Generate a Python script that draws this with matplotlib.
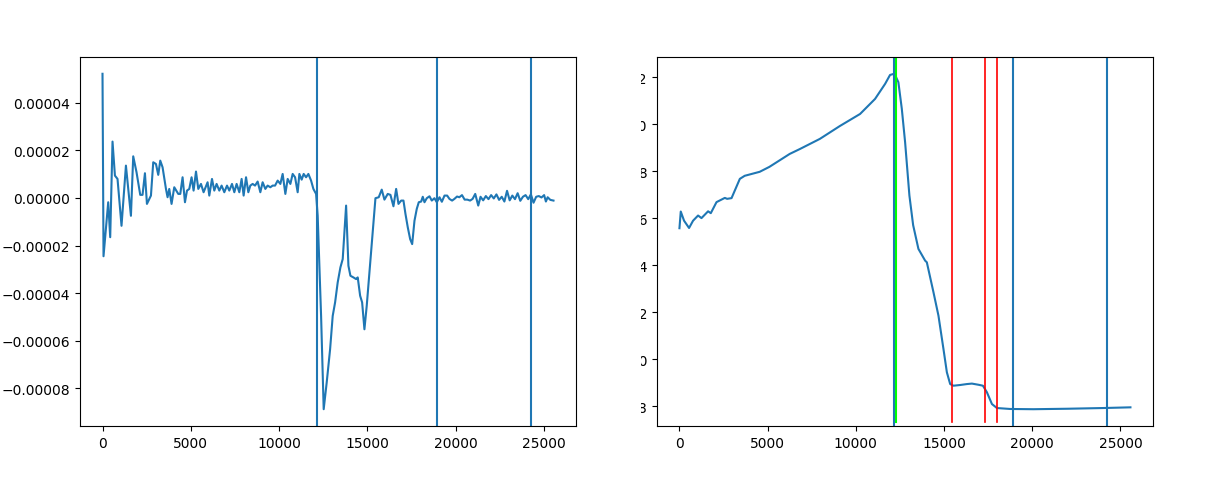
import numpy as np
import matplotlib
matplotlib.use("Agg")
import matplotlib.pyplot as plt
from matplotlib.transforms import Bbox

# left panel: derivative-like signal (values in units of 1e-5)
left_x = [0, 57, 323, 436, 567, 703, 850, 1076, 1326, 1609, 1739, 1926, 2136, 2266, 2402,
          2515, 2742, 2872, 3025, 3156, 3269, 3400, 3592, 3683, 3779, 3909, 4062, 4289, 4402,
          4533, 4668, 4782, 4912, 5042, 5156, 5292, 5422, 5575, 5722, 5949, 6045, 6198, 6328,
          6459, 6612, 6742, 6895, 7048, 7178, 7331, 7462, 7592, 7745, 7875, 7989, 8125, 8255,
          8368, 8499, 8635, 8782, 8935, 9065, 9218, 9348, 9501, 9632, 9768, 9915, 10068, 10198,
          10351, 10482, 10635, 10765, 10901, 11048, 11144, 11275, 11388, 11524, 11654, 11807,
          11938, 12091, 12181, 12374, 12521, 12691, 12884, 13031, 13167, 13314, 13467, 13598,
          13790, 13921, 14034, 14204, 14357, 14448, 14584, 14697, 14827, 14958, 15110, 15241,
          15451, 15637, 15807, 15960, 16147, 16300, 16470, 16623, 16754, 16907, 17037, 17150,
          17280, 17416, 17530, 17660, 17790, 17904, 18040, 18130, 18227, 18357, 18510, 18640,
          18790, 18924, 19077, 19210, 19360, 19510, 19640, 19790, 19920, 20070, 20200, 20350,
          20500, 20650, 20810, 20950, 21100, 21270, 21400, 21550, 21700, 21850, 22000, 22150,
          22300, 22450, 22600, 22750, 22900, 23050, 23200, 23350, 23500, 23650, 23800, 23950,
          24100, 24250, 24400, 24550, 24700, 24850, 25000, 25100, 25200, 25350, 25530]
left_v = [5.22, -2.45, -0.18, -1.65, 2.37, 0.94, 0.80, -1.17, 1.36, -0.75, 1.75, 1.08, 0.13, 0.13, 1.04,
          -0.25, 0.10, 1.50, 1.43, 0.97, 1.57, 1.29, 0.38, 0.03, 0.38, -0.25, 0.45, 0.17, 0.17,
          0.87, -0.18, 0.31, 0.38, 0.87, 0.31, 1.11, 0.38, 0.59, 0.24, 0.66, 0.10, 0.80, 0.31,
          0.59, 0.31, 0.52, 0.24, 0.52, 0.31, 0.59, 0.24, 0.59, 0.24, 0.80, 0.10, 0.87, 0.24,
          0.52, 0.59, 0.52, 0.69, 0.24, 0.66, 0.38, 0.52, 0.45, 0.52, 0.52, 0.73, 0.59, 1.01,
          0.17, 0.80, 0.59, 1.01, 0.87, 0.24, 1.01, 0.77, 1.01, 0.87, 1.01, 0.73,
          0.38, 0.17, -0.75, -4.96, -8.88, -7.76, -6.36, -4.96, -4.39, -3.55, -2.92, -2.57,
          -0.32, -2.85, -3.27, -3.34, -3.41, -3.34, -4.11, -4.39, -5.52, -4.53, -3.13, -1.87,
          -0.01, 0.03, 0.35, -0.07, 0.17, 0.13, -0.35, 0.38, -0.25, -0.11, -0.11, -0.67,
          -1.23, -1.73, -1.94, -0.96, -0.46, -0.18, -0.15, 0.05, -0.18, -0.01, 0.07, -0.11,
          -0.01, -0.18, 0.03, -0.16, 0.10, 0.10, -0.04, -0.11, -0.04, 0.06, 0.03, 0.12,
          -0.07, -0.07, -0.11, -0.04, 0.17, -0.32, 0.05, -0.10, 0.08, -0.05, 0.12, -0.02,
          0.15, -0.08, 0.05, -0.15, 0.30, -0.10, 0.10, -0.05, 0.20, -0.12, 0.05, 0.12,
          -0.05, 0.15, -0.20, 0.05, 0.08, 0.02, 0.12, -0.15, 0.03, -0.08, -0.11]
left_lines = [12160, 18920, 24230]

# right panel: smooth curve
right_x = [0, 74, 261, 545, 772, 1056, 1249, 1624, 1777, 2101, 2573, 2703, 2953, 3424, 3700,
           4550, 5100, 6250, 6830, 7960, 9100, 10240, 11090, 11660, 11940, 12170, 12226, 12413,
           12607, 12794, 13038, 13250, 13549, 13930, 14026, 14401, 14685, 14969, 15162, 15349,
           15537, 15917, 16298, 16582, 16956, 17206, 17433, 17717, 18001, 18756, 20062, 22000,
           24000, 25570]
right_v = [25.57, 26.28, 25.89, 25.58, 25.89, 26.11, 26.00, 26.29, 26.21, 26.68, 26.86, 26.82,
           26.85, 27.67, 27.80, 27.97, 28.18, 28.73, 28.94, 29.37, 29.92, 30.43, 31.07, 31.71,
           32.09, 32.14, 32.09, 31.78, 30.65, 29.23, 26.96, 25.70, 24.69, 24.19, 24.12, 22.85,
           21.85, 20.43, 19.44, 18.94, 18.87, 18.90, 18.94, 18.96, 18.91, 18.87, 18.59, 18.09,
           17.92, 17.88, 17.87, 17.89, 17.92, 17.95]
right_blue = [12170, 18927, 24265]
right_green = [12265]
right_red = [15446, 17320, 18000]

fig, (ax1, ax2) = plt.subplots(1, 2, figsize=(12.17, 4.81), dpi=100)
fig.subplots_adjust(left=0.0657, right=0.9474, bottom=0.1123, top=0.8794, wspace=0.163)

ax1.plot(left_x, np.array(left_v) * 1e-5)
for x in left_lines:
    ax1.axvline(x)
ax1.ticklabel_format(axis='y', style='plain')

ax2.plot(right_x, right_v)
for x in right_blue:
    ax2.axvline(x)
for x in right_green:
    ax2.axvline(x, ymin=0.012, color='lime')
for x in right_red:
    ax2.axvline(x, ymin=0.012, color='red', linewidth=1.2)

ax2.set_yticks(np.arange(18, 33, 2))
clip = Bbox.from_extents(641, 0, 1217, 481)
for lab in ax2.get_yticklabels():
    lab.set_clip_box(clip)
    lab.set_clip_on(True)

fig.savefig("out.png", dpi=100)
